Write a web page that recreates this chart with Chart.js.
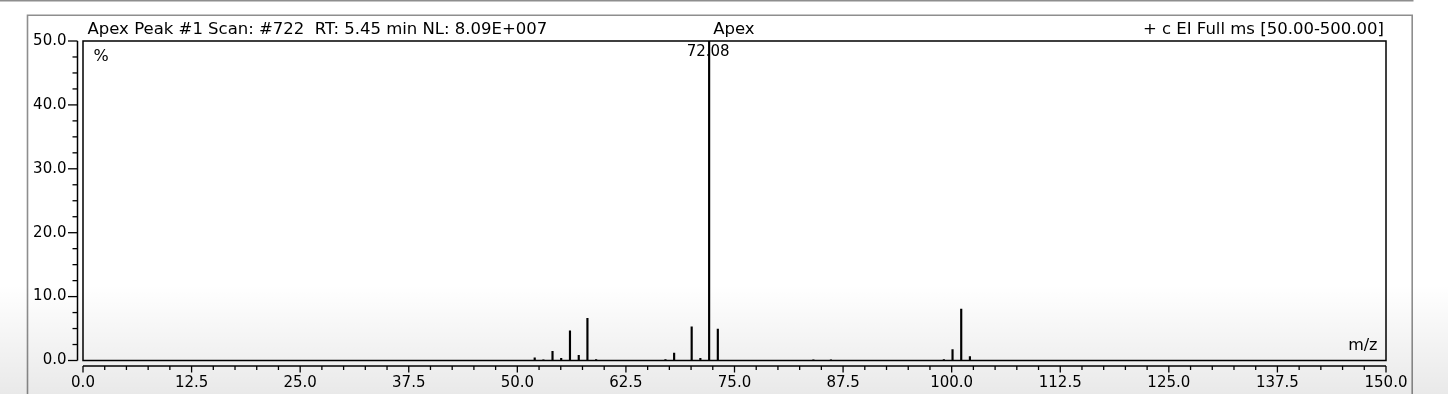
<!DOCTYPE html>
<html>
<head>
<meta charset="utf-8">
<script src="https://cdn.jsdelivr.net/npm/chart.js@4.4.1/dist/chart.umd.min.js"></script>
<style>
html,body{margin:0;padding:0;background:#fff;}
#wrap{position:relative;width:1448px;height:394px;}
canvas{display:block;}
</style>
</head>
<body>
<div id="wrap"><canvas id="c" width="1448" height="394"></canvas></div>
<script>
// ---- data ----
const mzValues     = [52.0, 53.0, 54.05, 55.05, 56.06, 57.07, 58.07, 59.07, 67.05, 68.05, 70.07, 71.07, 72.08, 73.08, 84.08, 86.1, 99.1, 100.1, 101.1, 102.1];
const relIntensity = [0.4, 0.12, 1.45, 0.35, 4.65, 0.82, 6.6, 0.15, 0.15, 1.18, 5.25, 0.35, 100, 4.9, 0.12, 0.12, 0.15, 1.72, 8.05, 0.6];
const xTickValues  = [0, 12.5, 25, 37.5, 50, 62.5, 75, 87.5, 100, 112.5, 125, 137.5, 150];
const yTickValues  = [0, 10, 20, 30, 40, 50];
const minorStep    = 2.5;
const headerLeft   = 'Apex Peak #1 Scan: #722  RT: 5.45 min NL: 8.09E+007';
const headerRight  = '+ c EI Full ms [50.00-500.00]';
const apexLabel    = 'Apex';
const yUnit        = '%';
const xUnit        = 'm/z';
const basePeakMz   = 72.08;

const FONT = "'DejaVu Sans', sans-serif";

function range(min, max, step) {
  const out = [];
  for (let v = min; v <= max + 1e-9; v += step) out.push(Math.round(v * 1000) / 1000);
  return out;
}

const deco = {
  id: 'deco',
  beforeDraw(chart) {
    const ctx = chart.ctx;
    ctx.save();
    ctx.fillStyle = '#fff';
    ctx.fillRect(0, 0, chart.width, chart.height);
    ctx.strokeStyle = '#8e8e8e';
    ctx.lineWidth = 1.5;
    ctx.beginPath(); ctx.moveTo(0, 0.75); ctx.lineTo(1413.5, 0.75); ctx.stroke();
    ctx.beginPath();
    ctx.moveTo(27.5, chart.height); ctx.lineTo(27.5, 15.25); ctx.lineTo(1412.2, 15.25); ctx.lineTo(1412.2, chart.height);
    ctx.lineWidth = 1.6;
    ctx.stroke();
    ctx.restore();
  },
  afterDraw(chart) {
    const {ctx, chartArea: a, scales: {x, y}} = chart;
    ctx.save();
    ctx.strokeStyle = '#000';
    ctx.lineWidth = 1.5;
    ctx.strokeRect(a.left, a.top, a.right - a.left, a.bottom - a.top);

    // y axis (offset to the left of the plot box)
    const yx = a.left - 5.5;
    ctx.beginPath();
    ctx.moveTo(yx, y.getPixelForValue(y.max));
    ctx.lineTo(yx, y.getPixelForValue(y.min));
    ctx.stroke();
    ctx.lineWidth = 1.3;
    range(y.min, y.max, minorStep).forEach(v => {
      const p = y.getPixelForValue(v);
      const major = yTickValues.includes(v);
      ctx.beginPath();
      ctx.moveTo(yx, p);
      ctx.lineTo(yx - (major ? 9.5 : 5), p);
      ctx.stroke();
    });

    // x axis (offset below the plot box)
    const xy = a.bottom + 5.5;
    ctx.lineWidth = 1.5;
    ctx.beginPath();
    ctx.moveTo(x.getPixelForValue(x.min), xy);
    ctx.lineTo(x.getPixelForValue(x.max), xy);
    ctx.stroke();
    ctx.lineWidth = 1.3;
    range(x.min, x.max, minorStep).forEach(v => {
      const p = x.getPixelForValue(v);
      const major = xTickValues.includes(v);
      ctx.beginPath();
      ctx.moveTo(p, xy);
      ctx.lineTo(p, xy + (major ? 6.5 : 4));
      ctx.stroke();
    });

    // texts
    ctx.fillStyle = '#000';
    ctx.font = '16.5px ' + FONT;
    ctx.textBaseline = 'alphabetic';
    ctx.textAlign = 'left';
    ctx.fillText(headerLeft, 87.5, 34);
    ctx.textAlign = 'right';
    ctx.fillText(headerRight, 1384, 34);

    const px = x.getPixelForValue(basePeakMz);
    ctx.textAlign = 'left';
    ctx.fillText(apexLabel, px + 4, 34);

    ctx.font = '15px ' + FONT;
    const lbl = basePeakMz.toFixed(2);
    const intPart = lbl.split('.')[0];
    const wInt = ctx.measureText(intPart).width;
    const wDot = ctx.measureText('.').width;
    ctx.fillText(lbl, px - wInt - wDot / 2 - 1, 56);

    ctx.font = '16px ' + FONT;
    ctx.fillText(yUnit, 93.5, 61);
    ctx.textAlign = 'right';
    ctx.fillText(xUnit, 1377.5, 349.5);

    // soft bottom shading of the original screenshot
    const g = ctx.createLinearGradient(0, 285, 0, chart.height);
    g.addColorStop(0, 'rgba(0,0,0,0)');
    g.addColorStop(1, 'rgba(0,0,0,0.085)');
    ctx.fillStyle = g;
    ctx.fillRect(0, 285, chart.width, chart.height - 285);
    ctx.restore();
  }
};

new Chart(document.getElementById('c'), {
  type: 'bar',
  data: {
    datasets: [{
      data: mzValues.map((m, i) => ({x: m, y: relIntensity[i]})),
      backgroundColor: '#000',
      borderWidth: 0,
      barThickness: 1.5,
      clip: 0
    }]
  },
  options: {
    responsive: false,
    animation: false,
    events: [],
    layout: {padding: {top: 41, right: 62, left: 0, bottom: 0}},
    plugins: {legend: {display: false}, tooltip: {enabled: false}, title: {display: false}},
    scales: {
      x: {
        type: 'linear',
        min: 0, max: 150,
        offset: false,
        afterFit(s) { s.height = 33.5; },
        afterBuildTicks(s) { s.ticks = xTickValues.map(v => ({value: v})); },
        grid: {display: true, drawOnChartArea: false, drawTicks: true, tickLength: 8, color: 'rgba(0,0,0,0)', tickColor: 'rgba(0,0,0,0)', offset: false},
        border: {display: false},
        ticks: {
          autoSkip: false, maxRotation: 0, minRotation: 0, padding: 6,
          color: '#000', font: {family: FONT, size: 15},
          callback: v => Number(v).toFixed(1)
        }
      },
      y: {
        min: 0, max: 50,
        afterFit(s) { s.width = 83; },
        afterBuildTicks(s) { s.ticks = yTickValues.map(v => ({value: v})); },
        grid: {display: true, drawOnChartArea: false, drawTicks: true, tickLength: 10, color: 'rgba(0,0,0,0)', tickColor: 'rgba(0,0,0,0)'},
        border: {display: false},
        ticks: {
          padding: 6.5,
          color: '#000', font: {family: FONT, size: 15},
          callback: v => Number(v).toFixed(1)
        }
      }
    }
  },
  plugins: [deco]
});
</script>
</body>
</html>
